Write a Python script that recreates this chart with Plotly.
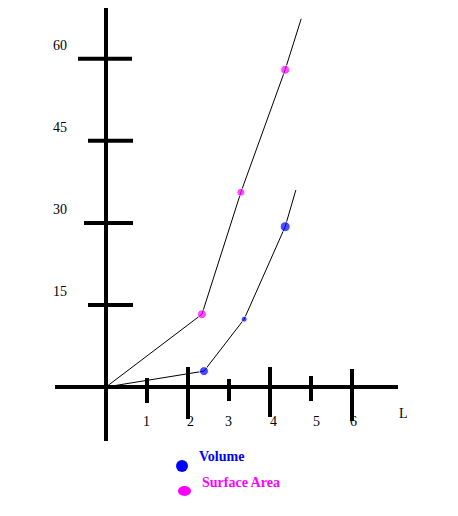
import plotly.graph_objects as go

sa_x = [0, 2.34, 3.29, 4.37, 4.76]
sa_y = [0, 13.3, 35.6, 58.0, 67.3]
sa_mx = [0, 2.34, 3.29, 4.37]
sa_my = [0, 13.3, 35.6, 58.0]
vol_x = [0, 2.39, 3.37, 4.37, 4.63]
vol_y = [0, 2.9, 12.4, 29.3, 36.0]
vol_mx = [2.39, 3.37, 4.37]
vol_my = [2.9, 12.4, 29.3]
vol_ms = [9, 6, 10]
x_ticks = [1, 2, 3, 4, 5, 6]
y_ticks = [15, 30, 45, 60]

ppx = 41.0
ppy = 5.47
OX, OY = 8, 7  # page offset compensation
fig = go.Figure()
fig.add_trace(go.Scatter(x=sa_x, y=sa_y, mode="lines", line=dict(color="black", width=1)))
fig.add_trace(go.Scatter(x=vol_x, y=vol_y, mode="lines", line=dict(color="black", width=1)))
fig.add_trace(go.Scatter(x=sa_mx, y=sa_my, mode="markers", marker=dict(color="#ff00ff", size=[5, 9, 8, 9])))
fig.add_trace(go.Scatter(x=vol_mx, y=vol_my, mode="markers", marker=dict(color="#0000ff", size=vol_ms)))

shapes = []
L = dict(color="black", width=4)
shapes.append(dict(type="line", x0=(55-106)/ppx, x1=(398-106)/ppx, y0=0, y1=0, line=L))
shapes.append(dict(type="line", x0=0, x1=0, y0=(386-0)/ppy, y1=(386-440)/ppy, line=L))
ylen = {15: (88, 133), 30: (84, 133), 45: (88, 133), 60: (78, 132)}
for t in y_ticks:
    a, b = ylen[t]
    shapes.append(dict(type="line", x0=(a-106)/ppx, x1=(b-106)/ppx, y0=t, y1=t, line=L))
xlen = {1: (377, 402), 2: (366, 418), 3: (378, 400), 4: (366, 416), 5: (375, 400), 6: (368, 420)}
for t in x_ticks:
    a, b = xlen[t]
    shapes.append(dict(type="line", x0=t, x1=t, y0=(386-a)/ppy, y1=(386-b)/ppy, line=L))
shapes.append(dict(type="circle", xref="paper", yref="paper", x0=(176-OX)/458, x1=(188-OX)/458,
                   y0=1-(471-OY)/516, y1=1-(459-OY)/516, fillcolor="#0000ff", line=dict(width=0)))
shapes.append(dict(type="circle", xref="paper", yref="paper", x0=(178-OX)/458, x1=(191-OX)/458,
                   y0=1-(495-OY)/516, y1=1-(485-OY)/516, fillcolor="#ff00ff", line=dict(width=0)))

F = dict(family="Liberation Serif", size=14, color="black")
ann = []
xlab_pos = {1: 146, 2: 190, 3: 228, 4: 273, 5: 316, 6: 353}
for t in x_ticks:
    ann.append(dict(x=(xlab_pos[t]-106)/ppx, y=(386-420)/ppy, text=str(t), showarrow=False, font=F))
for t in y_ticks:
    ann.append(dict(x=(60-106)/ppx, y=t + 2.5, text=str(t), showarrow=False, font=F))
ann.append(dict(x=(403-106)/ppx, y=(386-412)/ppy, text="L", showarrow=False, font=F))
ann.append(dict(xref="paper", yref="paper", x=(197-OX)/458, y=1-(465-OY)/516, xanchor="left", text="<b>Volume</b>",
                showarrow=False, font=dict(family="Liberation Serif", size=14, color="#0000ff")))
ann.append(dict(xref="paper", yref="paper", x=(200-OX)/458, y=1-(491-OY)/516, xanchor="left", text="<b>Surface Area</b>",
                showarrow=False, font=dict(family="Liberation Serif", size=14, color="#ff00ff")))

fig.update_layout(width=458, height=516, margin=dict(l=0, r=0, t=0, b=0),
                  paper_bgcolor="white", plot_bgcolor="white", showlegend=False,
                  shapes=shapes, annotations=ann,
                  xaxis=dict(range=[-(106-OX)/ppx, (458-106+OX)/ppx], visible=False),
                  yaxis=dict(range=[(386-OY-516)/ppy, (386-OY)/ppy], visible=False))
fig.write_html("out.html")
